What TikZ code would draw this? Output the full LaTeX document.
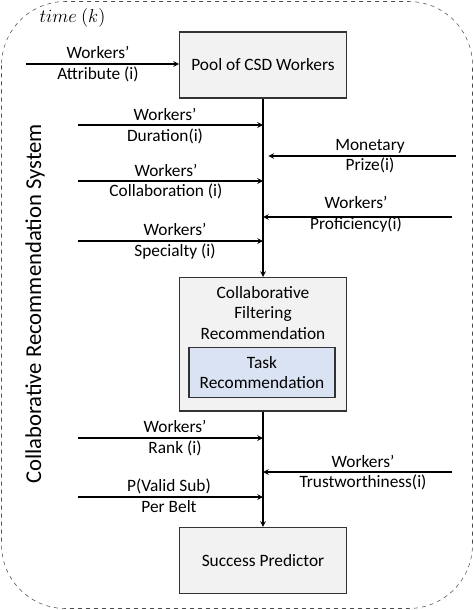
\documentclass[tikz,border=0pt]{standalone}
\usepackage{fix-cm}
\usepackage{fontspec}
\setmainfont{Carlito}
\usetikzlibrary{arrows}

\begin{document}
\begin{tikzpicture}[
            x = 0.75pt, y = -0.75pt, % pixel grid, y going down
            > = stealth, % arrow head style
            line width = 0.9pt, % line style
            font = \fontsize{13}{15.5}\selectfont
        ]

        \tikzstyle{block}=[
            draw = black!80,
            fill = black!5,
            minimum width = 125pt,
            minimum height = 49.5pt
        ]
        \tikzstyle{lbl}=[
            align = center,
            inner sep = 0pt
        ]

        \useasboundingbox (0,0) rectangle (474,610);

        % frame of the system
        \draw[black!70, dashed, thin, rounded corners=48pt] (1.5,1.5) rectangle (472.5,608.5);
        \node[anchor=west, inner sep=0pt] (time) at (39,18) {\fontsize{14}{16}\selectfont$time\ (k)$};
        \node[rotate=90, font=\fontsize{17}{20}\selectfont] (crs) at (35,304) {Collaborative Recommendation System};

        % blocks
        \node[block] (pool) at (263,65) {Pool of CSD Workers};
        \node[block, minimum height=100pt, anchor=north] (cf) at (263,277) {};
        \node[lbl] (cftext) at (263,313) {Collaborative\\Filtering\\Recommendation};
        \node[draw=black!80, fill={rgb,255:red,218;green,227;blue,243}, align=center,
              minimum width=109.5pt, minimum height=38pt] (task) at (262,372.5) {Task\\Recommendation};
        \node[block] (succ) at (263,560.5) {Success Predictor};

        % inputs
        \coordinate (attr) at (26,64);
        \coordinate (dur) at (78,125);
        \coordinate (mon) at (456,156);
        \coordinate (col) at (78,181);
        \coordinate (prof) at (452,217);
        \coordinate (spec) at (78,241);
        \coordinate (rank) at (78,438);
        \coordinate (trust) at (452,472);
        \coordinate (pval) at (78,497);

        \draw[->] (attr) -- (attr -| pool.west);
        \draw[->] (pool) -- (cf);
        \draw[->] (cf) -- (succ);
        \draw[->] (dur) -- (dur -| pool.south);
        \draw[->] (mon) -- ([xshift=4] mon -| pool.south);
        \draw[->] (col) -- (col -| pool.south);
        \draw[->] (prof) -- (prof -| pool.south);
        \draw[->] (spec) -- (spec -| pool.south);
        \draw[->] (rank) -- (rank -| pool.south);
        \draw[->] (trust) -- (trust -| pool.south);
        \draw[->] (pval) -- (pval -| pool.south);

        % labels
        \node[lbl] at (98,64) {Workers’\\Attribute (i)};
        \node[lbl] at (165,126) {Workers’\\Duration(i)};
        \node[lbl] at (370,156) {Monetary\\Prize(i)};
        \node[lbl] at (166,181.5) {Workers’\\Collaboration (i)};
        \node[lbl] at (356,214) {Workers’\\Proficiency(i)};
        \node[lbl] at (175,241.5) {Workers’\\Specialty (i)};
        \node[lbl] at (175,438) {Workers’\\Rank (i)};
        \node[lbl] at (363,472.5) {Workers’\\Trustworthiness(i)};
        \node[lbl] at (169,496) {P(Valid Sub)\\Per Belt};

%        \draw[red] (263,0) -- (263,610);

    \end{tikzpicture}
\end{document}
